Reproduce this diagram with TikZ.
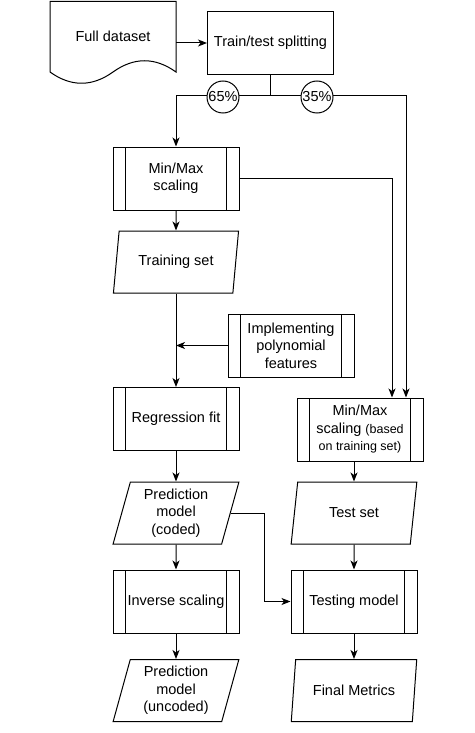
\documentclass[tikz,border=0pt]{standalone}
\usepackage{fontspec}
\setmainfont{Liberation Sans}
\usetikzlibrary{shapes.geometric,arrows.meta}

\begin{document}
\begin{tikzpicture}[x=1pt,y=-1pt]
  \tikzset{every node/.style={font=\fontsize{14.5}{17.5}\selectfont, align=center},
    box/.style={draw, line width=1pt, minimum width=126pt, minimum height=63pt, inner sep=1pt},
    procbox/.style={box, path picture={
        \draw[line width=1pt] ([xshift=12.5pt]path picture bounding box.north west) -- ([xshift=12.5pt]path picture bounding box.south west);
        \draw[line width=1pt] ([xshift=-12.5pt]path picture bounding box.north east) -- ([xshift=-12.5pt]path picture bounding box.south east);}},
    databox/.style={draw, line width=1pt, trapezium, trapezium left angle=76, trapezium right angle=104,
      trapezium stretches=true, minimum width=126pt, minimum height=62pt, inner sep=1pt},
    docbox/.style={minimum width=126pt, minimum height=63pt},
    pct/.style={draw, circle, fill=white, line width=1pt, minimum size=32pt, inner sep=0pt},
    arr/.style={line width=1pt, -{Stealth[length=9pt,width=7pt,inset=2.5pt]}},
    line/.style={line width=1pt}}
  \useasboundingbox (0,0) rectangle (474,733);
  % left column
  \node[docbox] (full) at (113,43) {\raisebox{13pt}{Full dataset}};
  \node[box] (split) at (270.5,43) {Train/test splitting};
  \node[procbox] (mml) at (176,178.5) {Min/Max\\scaling};
  \node[databox] (train) at (176,262) {Training set};
  \node[procbox] (poly) at (291,345.5) {Implementing\\polynomial\\features};
  \node[procbox] (fit) at (176,419) {Regression fit};
  \node[databox] (pc) at (176,513) {Prediction\\model\\(coded)};
  \node[procbox] (inv) at (176,601.5) {Inverse scaling};
  \node[databox] (pu) at (176,690.5) {Prediction\\model\\(uncoded)};
  % right column
  \node[procbox] (mmr) at (360,429.5) {Min/Max\\scaling {\fontsize{12.5}{17.5}\selectfont (based}\\{\fontsize{12.5}{17.5}\selectfont on training set)}};
  \node[databox] (tst) at (354,513) {Test set};
  \node[procbox] (tm) at (354,601.5) {Testing model};
  \node[databox] (fm) at (354,690.5) {Final Metrics};

  \draw[line] (50,1.5) -- (50,72) .. controls (71,87) and (92,87) .. (113,72)
    .. controls (134,57) and (155,57) .. (176,72) -- (176,1.5) -- cycle;
  \draw[arr] (full.east) -- (split.west);
  \draw[line] (split.south) -- ++(0,21) coordinate (fork);
  \draw[arr] (fork) -| (mml.north);
  \draw[arr] (fork) -| ([xshift=46pt]mmr.north);
  \draw[arr] (mml.east) -| ([xshift=32pt]mmr.north);
  \draw[arr] (mml) -- (train);
  \draw[arr] (train) -- (fit);
  \draw[arr] (poly.west) -- (poly.west -| train.south);
  \draw[arr] (fit) -- (pc);
  \draw[arr] (pc) -- (inv);
  \draw[arr] (inv) -- (pu);
  \draw[arr] (mmr.south -| tst.north) -- (tst.north);
  \draw[arr] (tst) -- (tm);
  \draw[arr] (tm) -- (fm);
  \draw[arr] (pc.east) -- ++(34,0) |- (tm.west);
  \node[pct] (p65) at (223,97) {65\%};
  \node[pct] (p35) at (317,97) {35\%};
\end{tikzpicture}
\end{document}
